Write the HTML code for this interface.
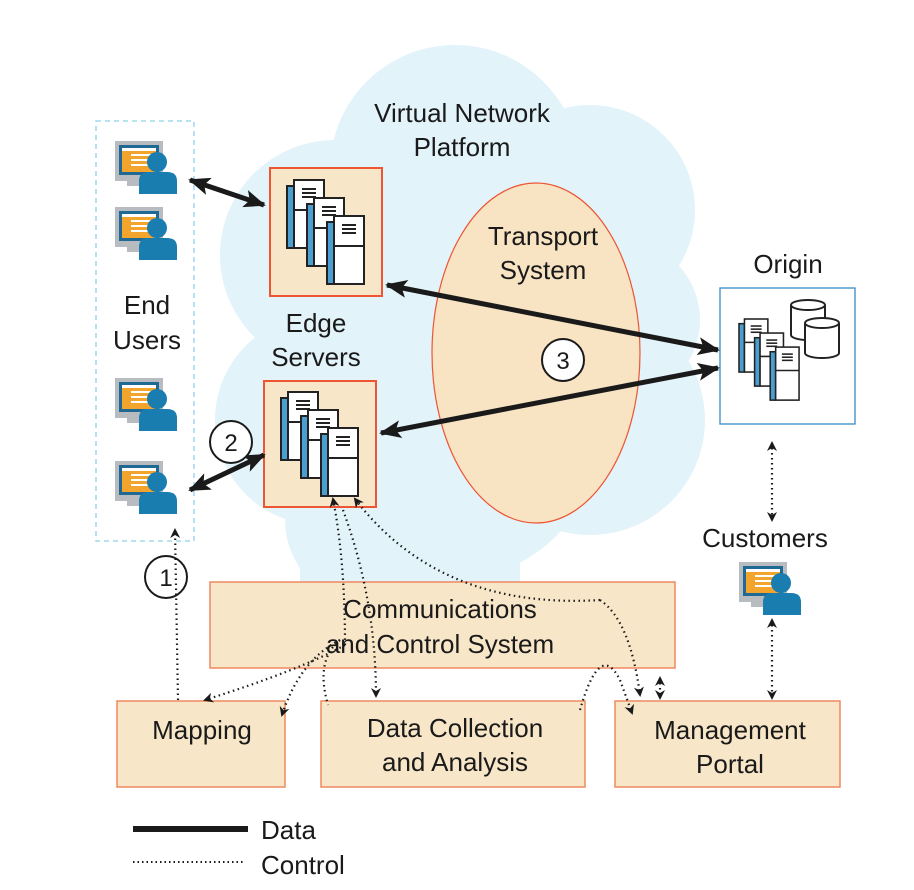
<!DOCTYPE html>
<html><head><meta charset="utf-8"><style>
html,body{margin:0;padding:0;background:#fff}
svg{display:block}
text{font-family:"Liberation Sans",sans-serif;fill:#1a1a1a}
</style></head><body>
<svg width="914" height="890" viewBox="0 0 914 890" xmlns="http://www.w3.org/2000/svg">
<defs>
<marker id="ah" markerWidth="10" markerHeight="10" refX="8" refY="5" orient="auto-start-reverse" markerUnits="userSpaceOnUse"><path d="M0,0 L10,5 L0,10 L3,5 Z" fill="#1a1a1a"/></marker>
<marker id="AH" markerWidth="22" markerHeight="18" refX="20" refY="9" orient="auto-start-reverse" markerUnits="userSpaceOnUse"><path d="M0,0 L22,9 L0,18 L5,9 Z" fill="#1a1a1a"/></marker>
<g id="user">
<rect x="0" y="0" width="48" height="40" fill="#b8bcc0"/>
<rect x="4" y="4" width="40" height="30" fill="#1f6a95"/>
<rect x="7" y="7" width="34" height="24" fill="#f3a42c"/>
<rect x="7" y="7" width="34" height="3" fill="#fff"/>
<rect x="16" y="13" width="20" height="2" fill="#fff"/><rect x="16" y="18" width="20" height="2" fill="#fff"/><rect x="16" y="23" width="20" height="2" fill="#fff"/>
<rect x="12" y="40" width="20" height="5" fill="#b8bcc0"/>
<circle cx="42" cy="21" r="10" fill="#1a7db0"/>
<path d="M24,53 L24,40 Q24,31 34,31 L52,31 Q62,31 62,40 L62,53 Z" fill="#1a7db0"/>
</g>
<g id="srv">
<rect x="0" y="6" width="7" height="62" fill="#4b9fd0" stroke="#222" stroke-width="2"/>
<rect x="7" y="0" width="30" height="68" fill="#fff" stroke="#222" stroke-width="2"/>
<line x1="7" y1="30" x2="37" y2="30" stroke="#222" stroke-width="2"/>
<rect x="15" y="8" width="14" height="2" fill="#222"/><rect x="15" y="12" width="14" height="2" fill="#222"/><rect x="15" y="16" width="14" height="2" fill="#222"/>
</g>
<g id="stack">
<use href="#srv" x="0" y="0"/><use href="#srv" x="20" y="18"/><use href="#srv" x="40" y="36"/>
</g>
</defs>

<g fill="#e2f3fa">
<circle cx="455" cy="170" r="125"/><circle cx="590" cy="210" r="105"/><circle cx="335" cy="255" r="115"/>
<circle cx="320" cy="420" r="105"/><circle cx="590" cy="420" r="115"/><circle cx="450" cy="430" r="150"/>
<circle cx="370" cy="520" r="85"/><circle cx="470" cy="110" r="55"/><circle cx="620" cy="320" r="80"/>
<rect x="300" y="500" width="220" height="105"/>
</g>
<ellipse cx="536" cy="353" rx="104" ry="170" fill="#f8e3c3" stroke="#ee5533" stroke-width="1.2"/>

<text x="462" y="122" font-size="26" text-anchor="middle">Virtual Network</text>
<text x="462" y="156" font-size="26" text-anchor="middle">Platform</text>
<text x="543" y="245" font-size="26" text-anchor="middle">Transport</text>
<text x="543" y="279" font-size="26" text-anchor="middle">System</text>

<rect x="96" y="121" width="98" height="420" fill="none" stroke="#8dd3ea" stroke-width="1.3" stroke-dasharray="5,4"/>
<use href="#user" x="115" y="141"/><use href="#user" x="115" y="207"/><use href="#user" x="115" y="378"/><use href="#user" x="115" y="461"/>
<text x="147" y="314" font-size="26" text-anchor="middle">End</text>
<text x="147" y="349" font-size="26" text-anchor="middle">Users</text>

<rect x="270" y="168" width="112" height="128" fill="#f8e6c8" stroke="#ee5533" stroke-width="2"/>
<use href="#stack" x="287" y="180"/>
<rect x="264" y="381" width="112" height="126" fill="#f8e6c8" stroke="#ee5533" stroke-width="2"/>
<use href="#stack" x="281" y="392"/>
<text x="316" y="332" font-size="26" text-anchor="middle">Edge</text>
<text x="316" y="366" font-size="26" text-anchor="middle">Servers</text>

<text x="788" y="273" font-size="26" text-anchor="middle">Origin</text>
<rect x="720" y="288" width="135" height="136" fill="#fff" stroke="#3a8cc6" stroke-width="1.3"/>
<g transform="translate(739,319) scale(0.78)"><use href="#stack"/></g>
<g fill="#fff" stroke="#222" stroke-width="2">
<path d="M791,305 v30 a17,5 0 0 0 34,0 v-30"/><ellipse cx="808" cy="305" rx="17" ry="5"/>
<path d="M805,323 v30 a17,5 0 0 0 34,0 v-30"/><ellipse cx="822" cy="323" rx="17" ry="5"/>
</g>

<g stroke="#1a1a1a" stroke-width="5" fill="none">
<line x1="190" y1="180" x2="264" y2="205" marker-start="url(#AH)" marker-end="url(#AH)"/>
<line x1="190" y1="490" x2="264" y2="455" marker-start="url(#AH)" marker-end="url(#AH)"/>
<line x1="387" y1="285" x2="718" y2="350" marker-start="url(#AH)" marker-end="url(#AH)"/>
<line x1="381" y1="433" x2="718" y2="368" marker-start="url(#AH)" marker-end="url(#AH)"/>
</g>
<g fill="#fff" stroke="#1a1a1a" stroke-width="2">
<circle cx="563" cy="360" r="21"/><circle cx="231" cy="442" r="21"/><circle cx="166" cy="577" r="21"/>
</g>
<text x="563" y="369" font-size="24" text-anchor="middle">3</text>
<text x="231" y="451" font-size="24" text-anchor="middle">2</text>
<text x="166" y="586" font-size="24" text-anchor="middle">1</text>

<text x="765" y="547" font-size="26" text-anchor="middle">Customers</text>
<use href="#user" x="739" y="562"/>

<g fill="#f8e6c8" stroke="#f08860" stroke-width="1.5">
<rect x="210" y="582" width="465" height="86"/>
<rect x="117" y="701" width="168" height="86"/>
<rect x="321" y="701" width="264" height="86"/>
<rect x="615" y="701" width="225" height="86"/>
</g>
<text x="440" y="618" font-size="26" text-anchor="middle">Communications</text>
<text x="440" y="653" font-size="26" text-anchor="middle">and Control System</text>
<text x="202" y="739" font-size="26" text-anchor="middle">Mapping</text>
<text x="455" y="737" font-size="26" text-anchor="middle">Data Collection</text>
<text x="455" y="771" font-size="26" text-anchor="middle">and Analysis</text>
<text x="730" y="739" font-size="26" text-anchor="middle">Management</text>
<text x="730" y="773" font-size="26" text-anchor="middle">Portal</text>

<g stroke="#1a1a1a" stroke-width="2.2" stroke-dasharray="1.5,3.5" fill="none">
<path d="M178,700 L175,530" marker-end="url(#ah)"/>
<path d="M345,645 Q345,560 333,499" marker-end="url(#ah)"/>
<path d="M345,645 Q300,670 205,700" marker-end="url(#ah)"/>
<path d="M343,510 Q376,600 376,696" marker-end="url(#ah)"/>
<path d="M600,600 Q440,610 355,499" marker-end="url(#ah)"/>
<path d="M600,600 Q630,620 640,695" marker-end="url(#ah)"/>
<path d="M340,640 Q300,660 282,715" marker-end="url(#ah)"/>
<path d="M340,640 Q315,660 328,705"/>
<path d="M580,710 Q600,640 620,680 L632,713" marker-end="url(#ah)"/>
<path d="M660,678 L660,698" marker-start="url(#ah)" marker-end="url(#ah)"/>
<path d="M772,443 L772,520" marker-start="url(#ah)" marker-end="url(#ah)"/>
<path d="M772,620 L772,698" marker-start="url(#ah)" marker-end="url(#ah)"/>
</g>

<line x1="133" y1="829" x2="248" y2="829" stroke="#1a1a1a" stroke-width="6"/>
<line x1="133" y1="862" x2="245" y2="862" stroke="#1a1a1a" stroke-width="2" stroke-dasharray="1.5,3"/>
<text x="261" y="839" font-size="26">Data</text>
<text x="261" y="874" font-size="26">Control</text>
</svg>
</body></html>
